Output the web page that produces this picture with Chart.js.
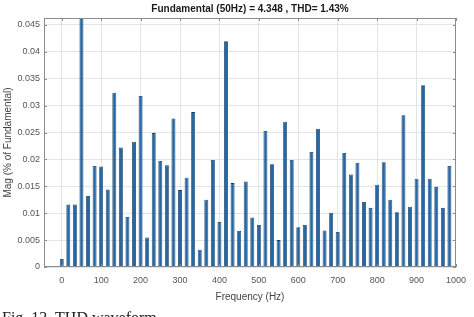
<!DOCTYPE html>
<html><head><meta charset="utf-8">
<script src="https://cdn.jsdelivr.net/npm/chart.js@4/dist/chart.umd.min.js"></script>
<style>
html,body{margin:0;padding:0;background:#fff;overflow:hidden;}
#wrap{position:relative;width:474px;height:317px;overflow:hidden;}
canvas{position:absolute;left:0;top:0;}
#cap{position:absolute;left:2px;top:310px;font:16px/16px "Liberation Serif","Times New Roman",serif;color:#222;white-space:nowrap;}
</style></head><body>
<div id="wrap"><canvas id="c" width="474" height="317"></canvas><div id="cap">Fig. 13. THD waveform</div></div>
<script>
const chartTitle = 'Fundamental (50Hz) = 4.348 , THD= 1.43%';
const xAxisTitle = 'Frequency (Hz)';
const yAxisTitle = 'Mag (% of Fundamental)';

const frequencies = [0, 16.67, 33.33, 50, 66.67, 83.33, 100, 116.67, 133.33, 150,
  166.67, 183.33, 200, 216.67, 233.33, 250, 266.67, 283.33, 300, 316.67,
  333.33, 350, 366.67, 383.33, 400, 416.67, 433.33, 450, 466.67, 483.33,
  500, 516.67, 533.33, 550, 566.67, 583.33, 600, 616.67, 633.33, 650,
  666.67, 683.33, 700, 716.67, 733.33, 750, 766.67, 783.33, 800, 816.67,
  833.33, 850, 866.67, 883.33, 900, 916.67, 933.33, 950, 966.67, 983.33];

const magnitudes = [0.0015, 0.0116, 0.0116, 0.0463, 0.0132, 0.0188, 0.0187, 0.0144, 0.0324, 0.0222,
  0.0093, 0.0233, 0.0318, 0.0055, 0.0249, 0.0197, 0.0189, 0.0276, 0.0143, 0.0166,
  0.0288, 0.0032, 0.0125, 0.0199, 0.0084, 0.0420, 0.0156, 0.0067, 0.0159, 0.0092,
  0.0078, 0.0253, 0.0191, 0.0050, 0.0270, 0.0199, 0.0074, 0.0078, 0.0214, 0.0257,
  0.0068, 0.0101, 0.0065, 0.0212, 0.0172, 0.0194, 0.0121, 0.0110, 0.0153, 0.0195,
  0.0125, 0.0102, 0.0282, 0.0112, 0.0164, 0.0338, 0.0164, 0.0149, 0.0110, 0.0188];

const xTickValues = [0, 100, 200, 300, 400, 500, 600, 700, 800, 900, 1000];
const xTickLabels = ['0', '100', '200', '300', '400', '500', '600', '700', '800', '900', '1000'];
const yTickValues = [0, 0.005, 0.01, 0.015, 0.02, 0.025, 0.03, 0.035, 0.04, 0.045];
const yTickLabels = ['0', '0.005', '0.01', '0.015', '0.02', '0.025', '0.03', '0.035', '0.04', '0.045'];

const FONT = '"Liberation Sans", Arial, Helvetica, sans-serif';

const framePlugin = {
  id: 'frame',
  afterDraw(chart) {
    const { ctx, chartArea: a } = chart;
    const xs = chart.scales.x, ys = chart.scales.y;
    ctx.save();
    ctx.strokeStyle = '#8c8c8c';
    ctx.lineWidth = 1;
    ctx.strokeRect(Math.round(a.left) + 0.5, Math.round(a.top) + 0.5,
      Math.round(a.right - a.left) - 1, Math.round(a.bottom - a.top) - 1);
    ctx.beginPath();
    xTickValues.forEach(v => {
      const px = Math.round(xs.getPixelForValue(v)) + 0.5;
      ctx.moveTo(px, a.top); ctx.lineTo(px, a.top + 3);
      ctx.moveTo(px, a.bottom); ctx.lineTo(px, a.bottom - 3);
    });
    yTickValues.forEach(v => {
      const py = Math.round(ys.getPixelForValue(v)) + 0.5;
      ctx.moveTo(a.left, py); ctx.lineTo(a.left + 3, py);
      ctx.moveTo(a.right, py); ctx.lineTo(a.right - 3, py);
    });
    ctx.stroke();
    ctx.fillStyle = '#1a1a1a';
    ctx.font = 'bold 10px ' + FONT;
    ctx.textAlign = 'center';
    ctx.textBaseline = 'middle';
    ctx.fillText(chartTitle, (a.left + a.right) / 2, 9);
    ctx.restore();
  }
};

new Chart(document.getElementById('c'), {
  type: 'bar',
  data: {
    datasets: [{
      data: frequencies.map((f, i) => ({ x: f, y: magnitudes[i] })),
      backgroundColor: '#2568a5',
      borderColor: '#163f68',
      borderWidth: 0.8,
      barPercentage: 0.6,
      categoryPercentage: 1.0
    }]
  },
  options: {
    responsive: false,
    animation: false,
    devicePixelRatio: 1,
    layout: { padding: { top: 18, right: 13, left: 0, bottom: 0 } },
    plugins: { legend: { display: false }, tooltip: { enabled: false }, title: { display: false } },
    scales: {
      x: {
        type: 'linear',
        offset: false,
        min: -45, max: 1000,
        afterBuildTicks: s => { s.ticks = xTickValues.map(v => ({ value: v })); },
        afterFit: s => { s.height = 50; },
        ticks: {
          callback: (v) => { const i = xTickValues.indexOf(v); return i >= 0 ? xTickLabels[i] : ''; },
          font: { family: FONT, size: 9 }, color: '#555', padding: 8, maxRotation: 0, autoSkip: false
        },
        grid: { color: '#e4e4e4', drawTicks: false, offset: false },
        border: { display: false },
        title: { display: true, text: xAxisTitle, font: { family: FONT, size: 10 }, color: '#444', padding: { top: 0, bottom: 14 } }
      },
      y: {
        min: 0, max: 0.0463,
        afterBuildTicks: s => { s.ticks = yTickValues.map(v => ({ value: v })); },
        afterFit: s => { s.width = 44; },
        ticks: {
          callback: (v) => { const i = yTickValues.findIndex(t => Math.abs(t - v) < 1e-9); return i >= 0 ? yTickLabels[i] : ''; },
          font: { family: FONT, size: 9 }, color: '#555', padding: 4, autoSkip: false
        },
        grid: { color: '#e4e4e4', drawTicks: false },
        border: { display: false },
        title: { display: true, text: yAxisTitle, font: { family: FONT, size: 10 }, color: '#444', padding: { top: 2, bottom: 0 } }
      }
    }
  },
  plugins: [framePlugin]
});
</script>
</body></html>
